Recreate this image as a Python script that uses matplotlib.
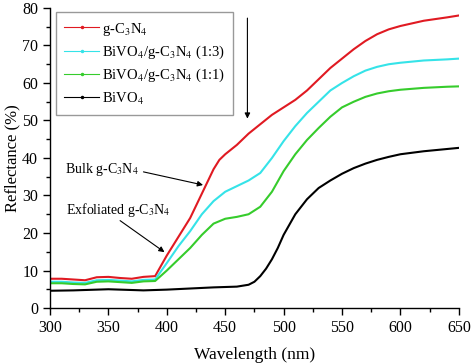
import matplotlib.pyplot as plt
from matplotlib.lines import Line2D
from matplotlib.ticker import MultipleLocator

plt.rcParams['font.family'] = ['Liberation Serif', 'DejaVu Serif']
plt.rcParams['mathtext.fontset'] = 'stix'

# wavelength grids (nm) and reflectance (%)
wl_red = [300, 310, 320, 330, 340, 350, 360, 370, 380, 390, 400, 410, 420, 430, 440, 445,
          450, 460, 470, 480, 490, 500, 510, 520, 530, 540, 550, 560, 570, 580, 590, 600,
          620, 640, 650]
r_red = [7.8, 7.8, 7.6, 7.4, 8.2, 8.3, 8.0, 7.8, 8.3, 8.5, 14, 19, 24, 30.5, 37, 39.5,
         41, 43.5, 46.5, 49, 51.5, 53.5, 55.5, 58, 61, 64, 66.5, 69, 71.2, 73, 74.3, 75.2,
         76.6, 77.5, 78]

wl_cyan = [300, 310, 320, 330, 340, 350, 360, 370, 380, 390, 400, 410, 420, 430, 440, 450,
           460, 470, 480, 490, 500, 510, 520, 530, 540, 550, 560, 570, 580, 590, 600, 620,
           640, 650]
r_cyan = [7.0, 7.0, 6.8, 6.7, 7.4, 7.5, 7.3, 7.1, 7.5, 7.6, 12, 16.5, 20.5, 25, 28.5, 31,
          32.5, 34, 36, 40, 44.5, 48.5, 52, 55, 58, 60, 61.8, 63.3, 64.3, 65, 65.4, 66,
          66.3, 66.5]

wl_green = [300, 310, 320, 330, 340, 350, 360, 370, 380, 390, 400, 410, 420, 430, 440, 450,
            460, 470, 480, 490, 500, 510, 520, 530, 540, 550, 560, 570, 580, 590, 600, 620,
            640, 650]
r_green = [6.6, 6.6, 6.4, 6.3, 7.0, 7.1, 6.9, 6.7, 7.1, 7.2, 10, 13, 16, 19.5, 22.5, 23.8,
           24.3, 25, 27, 31, 36.5, 41, 44.8, 48, 51, 53.5, 55, 56.3, 57.2, 57.8, 58.2, 58.7,
           59, 59.1]

wl_black = [300, 320, 340, 350, 360, 380, 400, 420, 440, 460, 470, 475, 480, 485, 490, 495,
            500, 510, 520, 530, 540, 550, 560, 570, 580, 590, 600, 620, 640, 650]
r_black = [4.6, 4.7, 4.9, 5.0, 4.9, 4.7, 4.9, 5.2, 5.5, 5.7, 6.2, 7.0, 8.5, 10.5, 13, 16,
           19.5, 25, 29, 32, 34, 35.8, 37.3, 38.5, 39.5, 40.3, 41, 41.8, 42.4, 42.7]

labels = ['g-C$_3$N$_4$', 'BiVO$_4$/g-C$_3$N$_4$ (1:3)',
          'BiVO$_4$/g-C$_3$N$_4$ (1:1)', 'BiVO$_4$']
colors = ['#e01a22', '#35e3e8', '#36cc2c', '#000000']

fig = plt.figure(figsize=(4.74, 3.63), dpi=100)
ax = fig.add_axes([0.1055, 0.1515, 0.8625, 0.8265])

series = [(wl_red, r_red), (wl_cyan, r_cyan), (wl_green, r_green), (wl_black, r_black)]
for (x, y), c in zip(series, colors):
    ax.plot(x, y, color=c, lw=1.5)

handles = [Line2D([], [], color=c, lw=0.8, marker='.', markersize=3) for c in colors]
leg = ax.legend(handles, labels, loc='upper left', bbox_to_anchor=(0.015, 0.985),
                fontsize=10.5, frameon=True, fancybox=False, edgecolor='#808080',
                handlelength=2.4, numpoints=1, labelspacing=0.42, borderpad=0.55,
                handletextpad=0.2, borderaxespad=0)
leg.get_frame().set_linewidth(1.0)

arrow = dict(arrowstyle='-|>', color='black', lw=0.8, mutation_scale=8,
             shrinkA=0, shrinkB=0)

# annotations
ax.text(313, 36.8, 'Bulk g-C$_3$N$_4$', fontsize=10, va='center', ha='left')
ax.annotate('', xy=(431, 32.8), xytext=(380, 36.3), arrowprops=arrow)
ax.text(314, 26.0, 'Exfoliated g-C$_3$N$_4$', fontsize=10, va='center', ha='left')
ax.annotate('', xy=(398, 14.9), xytext=(360, 23.3), arrowprops=arrow)
ax.annotate('', xy=(469, 50.5), xytext=(469, 77.3), arrowprops=arrow)

ax.set_xlim(300, 650)
ax.set_ylim(0, 80)
ax.xaxis.set_major_locator(MultipleLocator(50))
ax.xaxis.set_minor_locator(MultipleLocator(25))
ax.yaxis.set_major_locator(MultipleLocator(10))
ax.yaxis.set_minor_locator(MultipleLocator(5))
ax.tick_params(which='major', direction='out', length=5, width=1, labelsize=11.5)
ax.tick_params(which='minor', direction='out', length=3, width=1)
ax.spines['top'].set_visible(False)
ax.spines['right'].set_visible(False)
ax.spines['left'].set_linewidth(1)
ax.spines['bottom'].set_linewidth(1)
ax.set_xlabel('Wavelength (nm)', fontsize=12.5, labelpad=8)
ax.set_ylabel('Reflectance (%)', fontsize=12, labelpad=1)

fig.savefig('out.png', dpi=100)
